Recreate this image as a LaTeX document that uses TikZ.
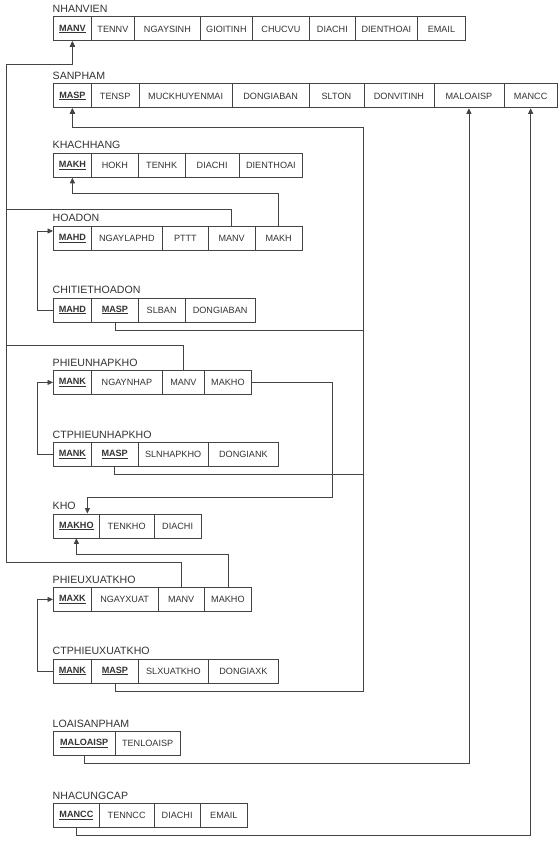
\documentclass[tikz,border=0pt]{standalone}
\usepackage{fontspec}
\setmainfont{Liberation Sans}
\usetikzlibrary{arrows.meta,calc}
\definecolor{ln}{HTML}{444444}
\definecolor{tx}{HTML}{333333}
\newcommand\pk[1]{\textbf{\underline{#1}}}
\newcommand\ercell[5]{%
  \pgfmathsetmacro\cw{#3-#2}%
  \node[cellbox, minimum width=\cw pt, anchor=north west] (#1) at (#2,#4) {#5};}
\newcommand\ertitle[3]{\node[ttl] (#1) at (52.5,#2) {#3};}
\begin{document}
\begin{tikzpicture}[x=1pt,y=-1pt,
  cellbox/.style={draw=ln, line width=0.8pt, rectangle, minimum height=24pt, inner sep=0pt,
    text=tx, font=\fontsize{9.1}{11}\selectfont},
  ttl/.style={anchor=base west, inner sep=0pt, text=tx, font=\fontsize{10.6}{12}\selectfont},
  fk/.style={draw=ln, line width=0.8pt, -{Triangle[length=5.5pt,width=5pt]}}]
\useasboundingbox[fill=white] (0,0) rectangle (558,842);

% NHANVIEN
\ertitle{t-nv}{12.5}{NHANVIEN}
\ercell{nv-manv}{53}{91}{16.5}{\pk{MANV}}
\ercell{nv-tennv}{91}{134}{16.5}{TENNV}
\ercell{nv-ngaysinh}{134}{200}{16.5}{NGAYSINH}
\ercell{nv-gioitinh}{200}{252}{16.5}{GIOITINH}
\ercell{nv-chucvu}{252}{309}{16.5}{CHUCVU}
\ercell{nv-diachi}{309}{355}{16.5}{DIACHI}
\ercell{nv-dienthoai}{355}{417}{16.5}{DIENTHOAI}
\ercell{nv-email}{417}{465}{16.5}{EMAIL}

% SANPHAM
\ertitle{t-sp}{79.5}{SANPHAM}
\ercell{sp-masp}{53}{91}{83.5}{\pk{MASP}}
\ercell{sp-tensp}{91}{138.5}{83.5}{TENSP}
\ercell{sp-muckm}{138.5}{232}{83.5}{MUCKHUYENMAI}
\ercell{sp-dongiaban}{232}{308.5}{83.5}{DONGIABAN}
\ercell{sp-slton}{308.5}{363.5}{83.5}{SLTON}
\ercell{sp-donvitinh}{363.5}{433.5}{83.5}{DONVITINH}
\ercell{sp-maloaisp}{433.5}{503.5}{83.5}{MALOAISP}
\ercell{sp-mancc}{503.5}{557}{83.5}{MANCC}

% KHACHHANG
\ertitle{t-kh}{149}{KHACHHANG}
\ercell{kh-makh}{53}{91}{153}{\pk{MAKH}}
\ercell{kh-hokh}{91}{138}{153}{HOKH}
\ercell{kh-tenhk}{138}{184.5}{153}{TENHK}
\ercell{kh-diachi}{184.5}{239}{153}{DIACHI}
\ercell{kh-dienthoai}{239}{302}{153}{DIENTHOAI}

% HOADON
\ertitle{t-hd}{222}{HOADON}
\ercell{hd-mahd}{53}{91}{226}{\pk{MAHD}}
\ercell{hd-ngaylaphd}{91}{162}{226}{NGAYLAPHD}
\ercell{hd-pttt}{162}{208}{226}{PTTT}
\ercell{hd-manv}{208}{254.5}{226}{MANV}
\ercell{hd-makh}{254.5}{302}{226}{MAKH}

% CHITIETHOADON
\ertitle{t-ct}{293.5}{CHITIETHOADON}
\ercell{ct-mahd}{53}{91}{297.5}{\pk{MAHD}}
\ercell{ct-masp}{91}{138}{297.5}{\pk{MASP}}
\ercell{ct-slban}{138}{184.5}{297.5}{SLBAN}
\ercell{ct-dongiaban}{184.5}{255}{297.5}{DONGIABAN}

% PHIEUNHAPKHO
\ertitle{t-pn}{366}{PHIEUNHAPKHO}
\ercell{pn-mank}{53}{91}{370}{\pk{MANK}}
\ercell{pn-ngaynhap}{91}{162}{370}{NGAYNHAP}
\ercell{pn-manv}{162}{204}{370}{MANV}
\ercell{pn-makho}{204}{251}{370}{MAKHO}

% CTPHIEUNHAPKHO
\ertitle{t-ctn}{438}{CTPHIEUNHAPKHO}
\ercell{ctn-mank}{53}{91}{442}{\pk{MANK}}
\ercell{ctn-masp}{91}{137.5}{442}{\pk{MASP}}
\ercell{ctn-slnhap}{137.5}{208}{442}{SLNHAPKHO}
\ercell{ctn-dongiank}{208}{278}{442}{DONGIANK}

% KHO
\ertitle{t-kho}{509.5}{KHO}
\ercell{kho-makho}{53}{99}{513.5}{\pk{MAKHO}}
\ercell{kho-tenkho}{99}{153.5}{513.5}{TENKHO}
\ercell{kho-diachi}{153.5}{201}{513.5}{DIACHI}

% PHIEUXUATKHO
\ertitle{t-px}{583}{PHIEUXUATKHO}
\ercell{px-maxk}{53}{91}{587}{\pk{MAXK}}
\ercell{px-ngayxuat}{91}{157.5}{587}{NGAYXUAT}
\ercell{px-manv}{157.5}{204}{587}{MANV}
\ercell{px-makho}{204}{251}{587}{MAKHO}

% CTPHIEUXUATKHO
\ertitle{t-ctx}{654.5}{CTPHIEUXUATKHO}
\ercell{ctx-mank}{53}{91}{658.5}{\pk{MANK}}
\ercell{ctx-masp}{91}{138}{658.5}{\pk{MASP}}
\ercell{ctx-slxuat}{138}{208}{658.5}{SLXUATKHO}
\ercell{ctx-dongiaxk}{208}{278}{658.5}{DONGIAXK}

% LOAISANPHAM
\ertitle{t-lsp}{727}{LOAISANPHAM}
\ercell{lsp-maloaisp}{53}{114.5}{731}{\pk{MALOAISP}}
\ercell{lsp-tenloaisp}{114.5}{180}{731}{TENLOAISP}

% NHACUNGCAP
\ertitle{t-ncc}{799}{NHACUNGCAP}
\ercell{ncc-mancc}{53}{99}{803}{\pk{MANCC}}
\ercell{ncc-tenncc}{99}{153.5}{803}{TENNCC}
\ercell{ncc-diachi}{153.5}{200}{803}{DIACHI}
\ercell{ncc-email}{200}{247}{803}{EMAIL}

% routing coordinates
\coordinate (busL) at (6,64);
\coordinate (busR) at (363,127);
\coordinate (khoR) at (332,497);
\coordinate (kho-in) at ($(kho-makho.north)+(11,0)$);
\coordinate (hd-in) at ($(hd-mahd.north west)+(0,5)$);

% MANV -> NHANVIEN
\draw[fk] (hd-manv.north) -- ++(0,-17) -| (busL) -| (nv-manv.south);
\draw[fk] (pn-manv.north) -- ++(0,-25) -| (busL) -| (nv-manv.south);
\draw[fk] (px-manv.north) -- ++(0,-25) -| (busL) -| (nv-manv.south);

% MASP -> SANPHAM
\draw[fk] (ct-masp.south) -- ++(0,8) -| (busR) -| (sp-masp.south);
\draw[fk] (ctn-masp.south) -- ++(0,8) -| (busR) -| (sp-masp.south);
\draw[fk] (ctx-masp.south) -- ++(0,8) -| (busR) -| (sp-masp.south);

% MAKH -> KHACHHANG
\draw[fk] (hd-makh.north) -- ++(0,-32.5) -| (kh-makh.south);

% MAHD -> HOADON
\draw[fk] (ct-mahd.west) -- ++(-16,0) |- (hd-in);

% MANK -> PHIEUNHAPKHO
\draw[fk] (ctn-mank.west) -- ++(-16,0) |- (pn-mank.west);

% MAKHO -> KHO
\draw[fk] (pn-makho.east) -| (khoR) -| (kho-in);
\draw[fk] (px-makho.north) -- ++(0,-33) -| (kho-makho.south);

% MAXK -> PHIEUXUATKHO
\draw[fk] (ctx-mank.west) -- ++(-16,0) |- (px-maxk.west);

% MALOAISP -> SANPHAM
\draw[fk] (lsp-maloaisp.south) -- ++(0,7.5) -| (sp-maloaisp.south);

% MANCC -> SANPHAM
\draw[fk] (ncc-mancc.south) -- ++(0,8) -| (sp-mancc.south);
\end{tikzpicture}
\end{document}
